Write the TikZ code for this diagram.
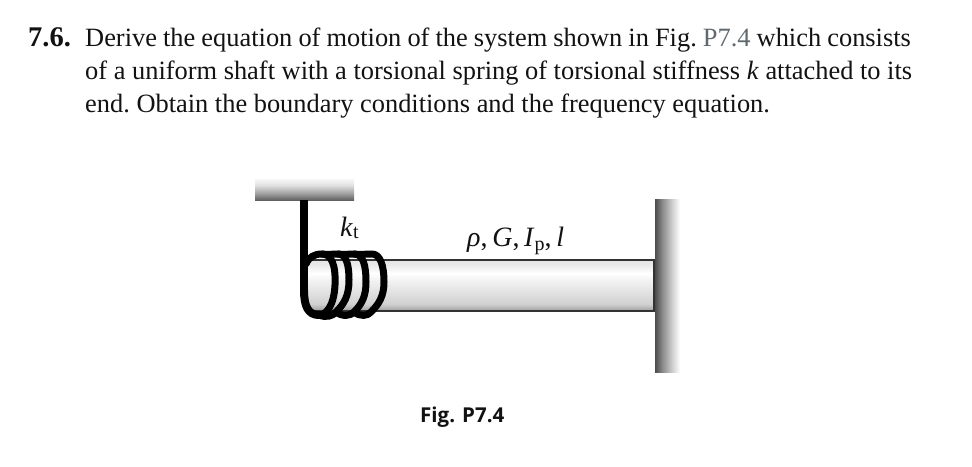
\documentclass[tikz,border=0pt]{standalone}
\usepackage{fontspec}
\setmainfont{Liberation Serif}
\newfontfamily\figfont{Open Sans}
\definecolor{linkgray}{RGB}{95,105,110}
\definecolor{inkblack}{RGB}{18,18,18}
\pgfdeclareverticalshading{shaftshade}{100bp}{
  color(0bp)=(black!45);
  color(25bp)=(black!38);
  color(32bp)=(black!18);
  color(55bp)=(black!5);
  color(62bp)=(white);
  color(70bp)=(black!8);
  color(100bp)=(black!22)}
\pgfdeclarehorizontalshading{wallshade}{100bp}{
  color(0bp)=(black!70);
  color(25bp)=(black!70);
  color(40bp)=(black!45);
  color(60bp)=(black!18);
  color(75bp)=(white);
  color(100bp)=(white)}
\pgfdeclareverticalshading{ceilshade}{100bp}{
  color(0bp)=(black!62);
  color(25bp)=(black!62);
  color(40bp)=(black!38);
  color(60bp)=(black!12);
  color(75bp)=(black!3);
  color(100bp)=(black!3)}
\tikzset{
  body/.style={anchor=base west,inner sep=0pt,text=inkblack,font=\fontsize{26.4}{30}\selectfont\frenchspacing},
  figlabel/.style={anchor=base west,inner sep=0pt,text=inkblack,font=\fontsize{28}{30}\selectfont},
  coil/.style={draw=black,line width=7pt,line cap=round,line join=round},
}
\begin{document}
\begin{tikzpicture}[x=1pt,y=-1pt]
\useasboundingbox (0,0) rectangle (972,466);
% problem text
\node[body,font=\fontsize{28.5}{30}\selectfont] (num) at (28,46) {\textbf{7.6.}};
\node[body] (l1) at (85,46) {\spaceskip=6.1pt plus 1pt minus 1pt Derive the equation of motion of the system shown in Fig. \textcolor{linkgray}{P7.4} which consists};
\node[body] (l2) at (85,79) {of a uniform shaft with a torsional spring of torsional stiffness \textit{k} attached to its};
\node[body] (l3) at (85,112) {end. Obtain the boundary conditions and the frequency equation.};
% ceiling and wall
\shade[shading=ceilshade] (255,179) rectangle (354,200);
\shade[shading=wallshade] (655,199) rectangle (680,372);
% shaft
\shade[shading=shaftshade] (306,260) rectangle (654,311);
\draw[black!80,line width=1.3pt] (306,260) -- (654,260) -- (654,311) -- (306,311);
% hanging wire into coil
\draw[coil,line cap=butt,line width=8pt] (304,200) -- (304,292);
\draw[coil,line width=8pt] (304,290) .. controls (304,306) and (308,315) .. (319,315);
% coil
\draw[coil] (319,315) .. controls (326,315) and (334,306) .. (335,285) .. controls (336,264) and (331,254) .. (322,254) .. controls (314,254) and (309,257) .. (306,264);
\draw[coil] (319,315) .. controls (326,318) and (333,316) .. (336,312) .. controls (344,304) and (349,296) .. (349,280) .. controls (349,264) and (346,254) .. (338,254) .. controls (332,254) and (326,255) .. (322,254);
\draw[coil] (336,312) .. controls (342,317) and (351,316) .. (354,312) .. controls (362,304) and (366,296) .. (366,282) .. controls (366,265) and (363,254) .. (354,254) .. controls (348,254) and (343,255) .. (338,254);
\draw[coil] (354,312) .. controls (360,317) and (368,316) .. (371,312) .. controls (379,304) and (384,296) .. (384,282) .. controls (384,265) and (380,254) .. (372,254) .. controls (365,254) and (360,255) .. (354,254);
% labels
\node[figlabel] (kt) at (340,236) {\textit{k}\raisebox{-2pt}{\fontsize{20}{22}\selectfont t}};
\node[figlabel] (par) at (467,246) {\textit{ρ},\,\textit{G},\,\textit{I}\raisebox{-4pt}{\fontsize{20}{22}\selectfont p},\,\textit{l}};
\node[anchor=base west,inner sep=0pt,text=inkblack,font=\figfont\bfseries\fontsize{20.5}{24}\selectfont] (cap) at (420,422) {Fig. P7.4};
\end{tikzpicture}
\end{document}
